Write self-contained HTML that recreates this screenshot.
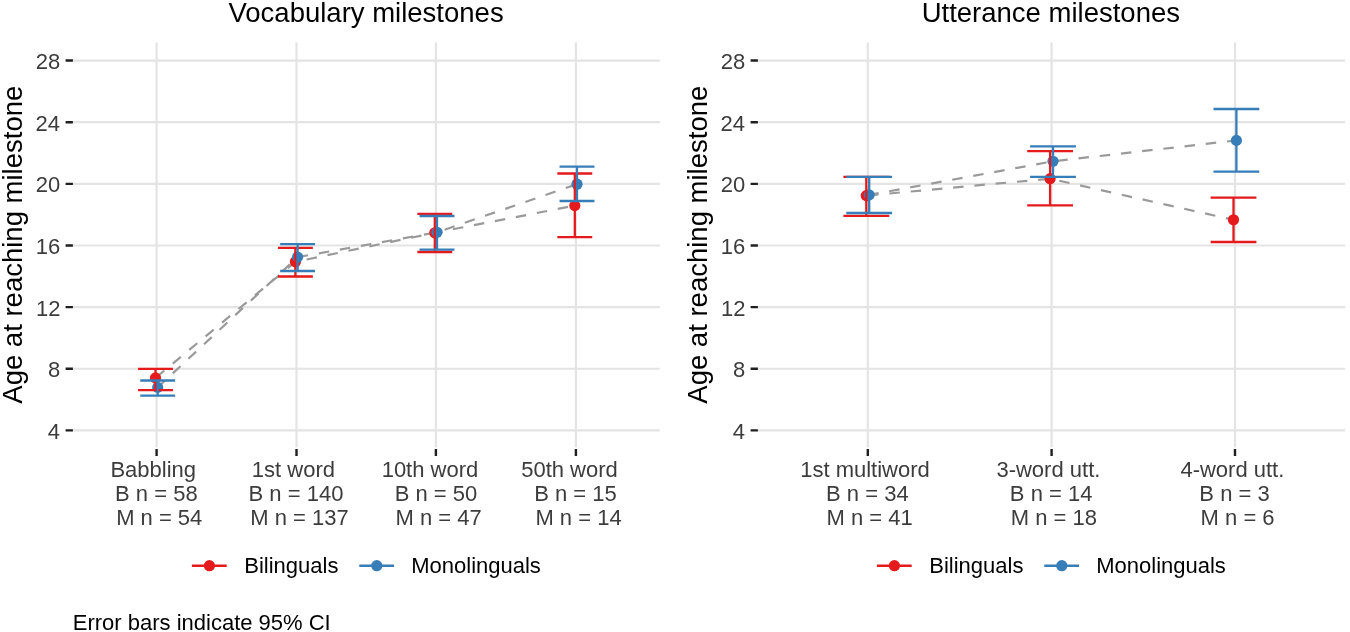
<!DOCTYPE html>
<html><head><meta charset="utf-8"><title>Milestones</title>
<style>html,body{margin:0;padding:0;background:#fff;}body{width:1350px;height:632px;overflow:hidden;}svg{display:block;}</style>
</head><body>
<svg width="1350" height="632" viewBox="0 0 1350 632" font-family="'Liberation Sans', Arial, sans-serif">
<rect width="1350" height="632" fill="#fff"/>
<path d="M72.70 430.40H659.80 M72.70 368.76H659.80 M72.70 307.12H659.80 M72.70 245.48H659.80 M72.70 183.84H659.80 M72.70 122.20H659.80 M72.70 60.56H659.80 M156.60 42.4V447.3 M296.50 42.4V447.3 M435.90 42.4V447.3 M575.90 42.4V447.3" stroke="#e4e4e4" stroke-width="2.2" fill="none"/>
<path d="M65.60 430.40H72.90 M65.60 368.76H72.90 M65.60 307.12H72.90 M65.60 245.48H72.90 M65.60 183.84H72.90 M65.60 122.20H72.90 M65.60 60.56H72.90 M156.60 449V455.9 M296.50 449V455.9 M435.90 449V455.9 M575.90 449V455.9" stroke="#1f1f1f" stroke-width="2.4" fill="none"/>
<text x="47.75" y="438.80" font-size="22" fill="#3c3c3c">4</text>
<text x="47.97" y="377.16" font-size="22" fill="#3c3c3c">8</text>
<text x="35.98" y="315.52" font-size="22" fill="#3c3c3c">12</text>
<text x="35.76" y="253.88" font-size="22" fill="#3c3c3c">16</text>
<text x="35.65" y="192.24" font-size="22" fill="#3c3c3c">20</text>
<text x="35.54" y="130.60" font-size="22" fill="#3c3c3c">24</text>
<text x="35.76" y="68.96" font-size="22" fill="#3c3c3c">28</text>
<text transform="translate(22.30,403.70) rotate(-90)" x="0" y="0" font-size="27.5" fill="#000">Age at reaching milestone</text>
<text x="228.49" y="22.10" font-size="27.5" fill="#000">Vocabulary milestones</text>
<path d="M155.50 377.90 L295.40 261.80 L434.80 232.80 L574.80 205.60" stroke="#9a9a9a" stroke-width="2.2" fill="none" stroke-dasharray="10.5 10.85" stroke-dashoffset="-1.1"/>
<path d="M157.70 387.40 L297.60 257.10 L437.00 232.30 L577.00 184.20" stroke="#9a9a9a" stroke-width="2.2" fill="none" stroke-dasharray="10.5 10.85" stroke-dashoffset="0.75"/>
<circle cx="155.50" cy="377.90" r="5.6" fill="#e41a1c"/>
<circle cx="295.40" cy="261.80" r="5.6" fill="#e41a1c"/>
<circle cx="434.80" cy="232.80" r="5.6" fill="#e41a1c"/>
<circle cx="574.80" cy="205.60" r="5.6" fill="#e41a1c"/>
<circle cx="157.70" cy="387.40" r="5.6" fill="#377eb8"/>
<circle cx="297.60" cy="257.10" r="5.6" fill="#377eb8"/>
<circle cx="437.00" cy="232.30" r="5.6" fill="#377eb8"/>
<circle cx="577.00" cy="184.20" r="5.6" fill="#377eb8"/>
<path d="M138.05 368.80H172.95M155.50 368.80V390.20M138.05 390.20H172.95M277.95 247.90H312.85M295.40 247.90V276.50M277.95 276.50H312.85M417.35 213.80H452.25M434.80 213.80V252.00M417.35 252.00H452.25M557.35 173.50H592.25M574.80 173.50V237.20M557.35 237.20H592.25" stroke="#e41a1c" stroke-width="2.3" fill="none"/>
<path d="M140.25 380.50H175.15M157.70 380.50V395.70M140.25 395.70H175.15M280.15 244.20H315.05M297.60 244.20V271.00M280.15 271.00H315.05M419.55 216.00H454.45M437.00 216.00V249.70M419.55 249.70H454.45M559.55 166.70H594.45M577.00 166.70V201.00M559.55 201.00H594.45" stroke="#377eb8" stroke-width="2.3" fill="none"/>
<text x="110.39" y="477.20" font-size="22" fill="#3c3c3c">Babbling</text>
<text x="115.06" y="501.10" font-size="22" fill="#3c3c3c">B n = 58</text>
<text x="116.13" y="524.90" font-size="22" fill="#3c3c3c">M n = 54</text>
<text x="251.86" y="477.20" font-size="22" fill="#3c3c3c">1st word</text>
<text x="248.59" y="501.10" font-size="22" fill="#3c3c3c">B n = 140</text>
<text x="250.25" y="524.90" font-size="22" fill="#3c3c3c">M n = 137</text>
<text x="381.65" y="477.20" font-size="22" fill="#3c3c3c">10th word</text>
<text x="394.65" y="501.10" font-size="22" fill="#3c3c3c">B n = 50</text>
<text x="395.50" y="524.90" font-size="22" fill="#3c3c3c">M n = 47</text>
<text x="521.19" y="477.20" font-size="22" fill="#3c3c3c">50th word</text>
<text x="534.16" y="501.10" font-size="22" fill="#3c3c3c">B n = 15</text>
<text x="535.43" y="524.90" font-size="22" fill="#3c3c3c">M n = 14</text>
<path d="M191.90 565.7H226.70" stroke="#e41a1c" stroke-width="2.6"/>
<circle cx="209.40" cy="565.7" r="5.6" fill="#e41a1c"/>
<text x="244.24" y="573.40" font-size="22" fill="#000">Bilinguals</text>
<path d="M359.30 565.7H394.00" stroke="#377eb8" stroke-width="2.6"/>
<circle cx="376.80" cy="565.7" r="5.6" fill="#377eb8"/>
<text x="411.24" y="573.40" font-size="22" fill="#000">Monolinguals</text>
<path d="M757.60 430.40H1345.20 M757.60 368.76H1345.20 M757.60 307.12H1345.20 M757.60 245.48H1345.20 M757.60 183.84H1345.20 M757.60 122.20H1345.20 M757.60 60.56H1345.20 M867.80 42.4V447.3 M1051.60 42.4V447.3 M1235.00 42.4V447.3" stroke="#e4e4e4" stroke-width="2.2" fill="none"/>
<path d="M750.60 430.40H757.90 M750.60 368.76H757.90 M750.60 307.12H757.90 M750.60 245.48H757.90 M750.60 183.84H757.90 M750.60 122.20H757.90 M750.60 60.56H757.90 M867.80 449V455.9 M1051.60 449V455.9 M1235.00 449V455.9" stroke="#1f1f1f" stroke-width="2.4" fill="none"/>
<text x="732.75" y="438.80" font-size="22" fill="#3c3c3c">4</text>
<text x="732.97" y="377.16" font-size="22" fill="#3c3c3c">8</text>
<text x="720.98" y="315.52" font-size="22" fill="#3c3c3c">12</text>
<text x="720.76" y="253.88" font-size="22" fill="#3c3c3c">16</text>
<text x="720.65" y="192.24" font-size="22" fill="#3c3c3c">20</text>
<text x="720.54" y="130.60" font-size="22" fill="#3c3c3c">24</text>
<text x="720.76" y="68.96" font-size="22" fill="#3c3c3c">28</text>
<text transform="translate(707.30,403.70) rotate(-90)" x="0" y="0" font-size="27.5" fill="#000">Age at reaching milestone</text>
<text x="921.67" y="22.10" font-size="27.5" fill="#000">Utterance milestones</text>
<path d="M866.30 195.60 L1050.10 178.70 L1233.50 219.80" stroke="#9a9a9a" stroke-width="2.2" fill="none" stroke-dasharray="10.5 10.85" stroke-dashoffset="-1.8"/>
<path d="M869.20 194.90 L1053.00 161.30 L1236.40 140.40" stroke="#9a9a9a" stroke-width="2.2" fill="none" stroke-dasharray="10.5 10.85" stroke-dashoffset="1.0"/>
<circle cx="866.30" cy="195.60" r="5.6" fill="#e41a1c"/>
<circle cx="1050.10" cy="178.70" r="5.6" fill="#e41a1c"/>
<circle cx="1233.50" cy="219.80" r="5.6" fill="#e41a1c"/>
<circle cx="869.20" cy="194.90" r="5.6" fill="#377eb8"/>
<circle cx="1053.00" cy="161.30" r="5.6" fill="#377eb8"/>
<circle cx="1236.40" cy="140.40" r="5.6" fill="#377eb8"/>
<path d="M843.40 176.80H889.20M866.30 176.80V215.80M843.40 215.80H889.20M1027.20 151.20H1073.00M1050.10 151.20V205.30M1027.20 205.30H1073.00M1210.60 197.70H1256.40M1233.50 197.70V242.00M1210.60 242.00H1256.40" stroke="#e41a1c" stroke-width="2.3" fill="none"/>
<path d="M846.30 176.80H892.10M869.20 176.80V213.00M846.30 213.00H892.10M1030.10 146.40H1075.90M1053.00 146.40V176.80M1030.10 176.80H1075.90M1213.50 109.00H1259.30M1236.40 109.00V171.60M1213.50 171.60H1259.30" stroke="#377eb8" stroke-width="2.3" fill="none"/>
<text x="800.20" y="477.20" font-size="22" fill="#3c3c3c">1st multiword</text>
<text x="826.05" y="501.10" font-size="22" fill="#3c3c3c">B n = 34</text>
<text x="826.54" y="524.90" font-size="22" fill="#3c3c3c">M n = 41</text>
<text x="996.43" y="477.20" font-size="22" fill="#3c3c3c">3-word utt.</text>
<text x="1009.85" y="501.10" font-size="22" fill="#3c3c3c">B n = 14</text>
<text x="1010.79" y="524.90" font-size="22" fill="#3c3c3c">M n = 18</text>
<text x="1180.40" y="477.20" font-size="22" fill="#3c3c3c">4-word utt.</text>
<text x="1199.37" y="501.10" font-size="22" fill="#3c3c3c">B n = 3</text>
<text x="1200.60" y="524.90" font-size="22" fill="#3c3c3c">M n = 6</text>
<path d="M876.90 565.7H911.70" stroke="#e41a1c" stroke-width="2.6"/>
<circle cx="894.40" cy="565.7" r="5.6" fill="#e41a1c"/>
<text x="929.24" y="573.40" font-size="22" fill="#000">Bilinguals</text>
<path d="M1044.30 565.7H1079.00" stroke="#377eb8" stroke-width="2.6"/>
<circle cx="1061.80" cy="565.7" r="5.6" fill="#377eb8"/>
<text x="1096.24" y="573.40" font-size="22" fill="#000">Monolinguals</text>
<text x="72.74" y="630.10" font-size="22" fill="#000">Error bars indicate 95% CI</text>
</svg>
</body></html>
